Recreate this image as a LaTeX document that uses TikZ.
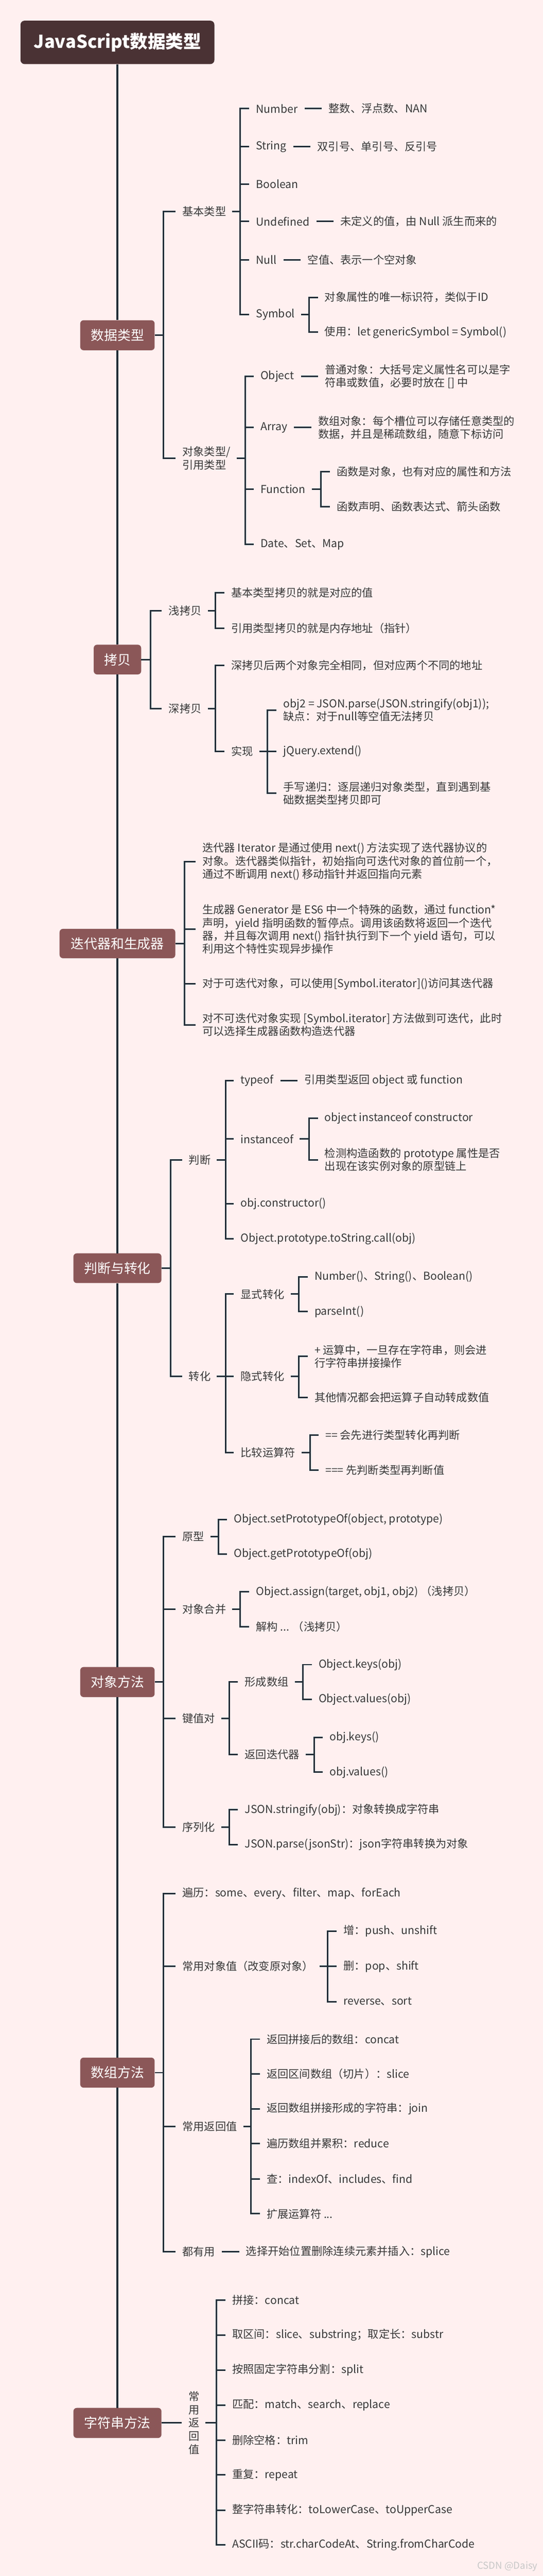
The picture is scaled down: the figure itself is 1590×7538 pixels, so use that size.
\documentclass[tikz,border=0pt]{standalone}
\usepackage{fontspec}
\setmainfont{Noto Sans CJK SC}
\usepackage{tikz}
\usetikzlibrary{positioning}

\definecolor{bgpink}{RGB}{255,240,240}
\definecolor{rootc}{RGB}{74,50,52}
\definecolor{boxc}{RGB}{139,87,88}
\definecolor{linec}{RGB}{35,48,58}
\definecolor{txtc}{RGB}{55,55,55}

\begin{document}
\begin{tikzpicture}[x=1pt, y=-1pt,
		topic/.style={fill=boxc, text=white, rounded corners=10pt, inner sep=0pt, minimum height=88pt, font=\fontsize{39}{45}\selectfont},
		item/.style={anchor=west, inner sep=0pt, align=left, text=txtc, font=\fontsize{32}{38}\selectfont},
		limb/.style={draw=linec, line width=4.5pt},
		trunk/.style={draw=linec, line width=5.5pt},
		stem/.style={limb, shorten <=18pt},
		branch/.style={limb, shorten >=20pt},
		pair/.style={limb, shorten <=20pt, shorten >=20pt}
	]

		\useasboundingbox (0,0) rectangle (1590,7538);
		\fill[bgpink] (0,0) rectangle (1590,7538);

		\node[fill=rootc, text=white, rounded corners=12pt, minimum width=568pt, minimum height=127pt, font=\bfseries\fontsize{52}{58}\selectfont] (root) at (344,124) {JavaScript数据类型};

		\node[topic, minimum width=218pt] (types) at (344,981) {数据类型};
		\node[topic, minimum width=139pt, minimum height=87pt] (copy) at (344,1930) {拷贝};
		\node[topic, minimum width=339pt, minimum height=86pt] (iter) at (344,2761) {迭代器和生成器};
		\node[topic, minimum width=258pt, minimum height=87pt] (check) at (344,3711) {判断与转化};
		\node[topic, minimum width=218pt] (objm) at (344,4922) {对象方法};
		\node[topic, minimum width=218pt] (arrm) at (344,6065) {数组方法};
		\node[topic, minimum width=258pt] (strm) at (344,7090) {字符串方法};

		\node[item] (basic) at (534,619) {基本类型};
		\node[item] (reftype) at (534,1341) {对象类型/\\引用类型};
		\node[item] (num) at (750,318) {Number};
		\node[item, right=90pt of num] (numd) {整数、浮点数、NAN};
		\node[item] (str) at (750,429) {String};
		\node[item, right=90pt of str] (strd) {双引号、单引号、反引号};
		\node[item] (bool) at (750,539) {Boolean};
		\node[item] (undef) at (750,648) {Undefined};
		\node[item, right=90pt of undef] (undefd) {未定义的值，由 Null 派生而来的};
		\node[item] (null) at (750,760) {Null};
		\node[item, right=90pt of null] (nulld) {空值、表示一个空对象};
		\node[item] (sym) at (750,921) {Symbol};
		\node[item] (sym1) at (951,870) {对象属性的唯一标识符，类似于ID};
		\node[item] (sym2) at (951,972) {使用：let genericSymbol = Symbol()};
		\node[item] (obj) at (763,1102) {Object};
		\node[item, right=90pt of obj] (objd) {普通对象：大括号定义属性名可以是字\\符串或数值，必要时放在 [] 中};
		\node[item] (arr) at (763,1251) {Array};
		\node[item, right=90pt of arr] (arrd) {数组对象：每个槽位可以存储任意类型的\\数据，并且是稀疏数组，随意下标访问};
		\node[item] (func) at (763,1431) {Function};
		\node[item] (func1) at (986,1380) {函数是对象，也有对应的属性和方法};
		\node[item] (func2) at (986,1482) {函数声明、函数表达式、箭头函数};
		\node[item] (misc) at (763,1593) {Date、Set、Map};

		\node[item] (shallow) at (494,1787) {浅拷贝};
		\node[item] (shallow1) at (677,1735) {基本类型拷贝的就是对应的值};
		\node[item] (shallow2) at (677,1838) {引用类型拷贝的就是内存地址（指针）};
		\node[item] (deep) at (494,2074) {深拷贝};
		\node[item] (deep1) at (677,1947) {深拷贝后两个对象完全相同，但对应两个不同的地址};
		\node[item] (impl) at (677,2199) {实现};
		\node[item] (impl1) at (830,2078) {obj2 = JSON.parse(JSON.stringify(obj1));\\缺点：对于null等空值无法拷贝};
		\node[item] (impl2) at (830,2199) {jQuery.extend()};
		\node[item] (impl3) at (830,2321) {手写递归：逐层递归对象类型，直到遇到基\\础数据类型拷贝即可};

		\node[item] (iter1) at (593,2521) {迭代器 Iterator 是通过使用 next() 方法实现了迭代器协议的\\对象。迭代器类似指针，初始指向可迭代对象的首位前一个，\\通过不断调用 next() 移动指针并返回指向元素};
		\node[item] (iter2) at (593,2719) {生成器 Generator 是 ES6 中一个特殊的函数，通过 function*\\声明，yield 指明函数的暂停点。调用该函数将返回一个迭代\\器，并且每次调用 next() 指针执行到下一个 yield 语句，可以\\利用这个特性实现异步操作};
		\node[item] (iter3) at (593,2879) {对于可迭代对象，可以使用[Symbol.iterator]()访问其迭代器};
		\node[item] (iter4) at (593,2999) {对不可迭代对象实现 [Symbol.iterator] 方法做到可迭代，此时\\可以选择生成器函数构造迭代器};

		\node[item] (judge) at (553,3394) {判断};
		\node[item] (conv) at (553,4028) {转化};
		\node[item] (typeof) at (705,3162) {typeof};
		\node[item, right=90pt of typeof] (typeofd) {引用类型返回 object 或 function};
		\node[item] (inst) at (705,3333) {instanceof};
		\node[item] (inst1) at (951,3272) {object instanceof constructor};
		\node[item] (inst2) at (951,3394) {检测构造函数的 prototype 属性是否\\出现在该实例对象的原型链上};
		\node[item] (ctor) at (705,3523) {obj.constructor()};
		\node[item] (tostr) at (705,3625) {Object.prototype.toString.call(obj)};
		\node[item] (expl) at (705,3787) {显式转化};
		\node[item] (expl1) at (921,3737) {Number()、String()、Boolean()};
		\node[item] (expl2) at (921,3838) {parseInt()};
		\node[item] (impc) at (705,4028) {隐式转化};
		\node[item] (impc1) at (921,3969) {+ 运算中，一旦存在字符串，则会进\\行字符串拼接操作};
		\node[item] (impc2) at (921,4089) {其他情况都会把运算子自动转成数值};
		\node[item] (cmp) at (705,4251) {比较运算符};
		\node[item] (cmp1) at (953,4199) {== 会先进行类型转化再判断};
		\node[item] (cmp2) at (953,4302) {=== 先判断类型再判断值};

		\node[item] (proto) at (534,4496) {原型};
		\node[item] (proto1) at (685,4446) {Object.setPrototypeOf(object, prototype)};
		\node[item] (proto2) at (685,4548) {Object.getPrototypeOf(obj)};
		\node[item] (merge) at (534,4709) {对象合并};
		\node[item] (merge1) at (750,4658) {Object.assign(target, obj1, obj2) （浅拷贝）};
		\node[item] (merge2) at (750,4760) {解构 ... （浅拷贝）};
		\node[item] (kv) at (534,5028) {键值对};
		\node[item] (kvarr) at (717,4921) {形成数组};
		\node[item] (kvarr1) at (933,4871) {Object.keys(obj)};
		\node[item] (kvarr2) at (933,4973) {Object.values(obj)};
		\node[item] (kvit) at (717,5134) {返回迭代器};
		\node[item] (kvit1) at (965,5084) {obj.keys()};
		\node[item] (kvit2) at (965,5186) {obj.values()};
		\node[item] (ser) at (534,5346) {序列化};
		\node[item] (ser1) at (717,5296) {JSON.stringify(obj)：对象转换成字符串};
		\node[item] (ser2) at (717,5398) {JSON.parse(jsonStr)：json字符串转换为对象};

		\node[item] (trav) at (534,5541) {遍历：some、every、filter、map、forEach};
		\node[item] (mut) at (534,5754) {常用对象值（改变原对象）};
		\node[item] (mut1) at (1006,5651) {增：push、unshift};
		\node[item] (mut2) at (1006,5754) {删：pop、shift};
		\node[item] (mut3) at (1006,5857) {reverse、sort};
		\node[item] (ret) at (534,6222) {常用返回值};
		\node[item] (ret1) at (781,5967) {返回拼接后的数组：concat};
		\node[item] (ret2) at (781,6069) {返回区间数组（切片）：slice};
		\node[item] (ret3) at (781,6171) {返回数组拼接形成的字符串：join};
		\node[item] (ret4) at (781,6273) {遍历数组并累积：reduce};
		\node[item] (ret5) at (781,6376) {查：indexOf、includes、find};
		\node[item] (ret6) at (781,6478) {扩展运算符 ...};
		\node[item] (both) at (534,6589) {都有用};
		\node[item, right=90pt of both] (bothd) {选择开始位置删除连续元素并插入：splice};

		\node[item, anchor=center, align=center, font=\fontsize{32}{39}\selectfont] (common) at (568,7090) {常\\用\\返\\回\\值};
		\node[item] (s1) at (680,6731) {拼接：concat};
		\node[item] (s2) at (680,6833) {取区间：slice、substring；取定长：substr};
		\node[item] (s3) at (680,6935) {按照固定字符串分割：split};
		\node[item] (s4) at (680,7038) {匹配：match、search、replace};
		\node[item] (s5) at (680,7140) {删除空格：trim};
		\node[item] (s6) at (680,7242) {重复：repeat};
		\node[item] (s7) at (680,7345) {整字符串转化：toLowerCase、toUpperCase};
		\node[item] (s8) at (680,7447) {ASCII码：str.charCodeAt、String.fromCharCode};

		\node[anchor=west, inner sep=0pt, text=black!22, font=\fontsize{28}{34}\selectfont] (mark) at (1398,7510) {CSDN @Daisy};

		\coordinate (typesj) at (479,981);
		\coordinate (basicj) at (703,619);
		\coordinate (symj) at (905,921);
		\coordinate (reftypej) at (718,1341);
		\coordinate (funcj) at (940,1431);
		\coordinate (copyj) at (441,1930);
		\coordinate (shallowj) at (631,1787);
		\coordinate (deepj) at (631,2074);
		\coordinate (implj) at (783,2199);
		\coordinate (iterj) at (540,2761);
		\coordinate (checkj) at (500,3711);
		\coordinate (judgej) at (661,3394);
		\coordinate (instj) at (905,3333);
		\coordinate (convj) at (661,4028);
		\coordinate (explj) at (875,3787);
		\coordinate (impcj) at (875,4028);
		\coordinate (cmpj) at (908,4251);
		\coordinate (objmj) at (479,4922);
		\coordinate (protoj) at (640,4496);
		\coordinate (mergej) at (703,4709);
		\coordinate (kvj) at (672,5028);
		\coordinate (kvarrj) at (887,4921);
		\coordinate (kvitj) at (920,5134);
		\coordinate (serj) at (672,5346);
		\coordinate (arrmj) at (479,6065);
		\coordinate (mutj) at (960,5754);
		\coordinate (retj) at (735,6222);
		\coordinate (commonj) at (634,7090);

		\draw[trunk] (root.south) -- (types.north);
		\draw[trunk] (types.south) -- (copy.north);
		\draw[trunk] (copy.south) -- (iter.north);
		\draw[trunk] (iter.south) -- (check.north);
		\draw[trunk] (check.south) -- (objm.north);
		\draw[trunk] (objm.south) -- (arrm.north);
		\draw[trunk] (arrm.south) -- (strm.north);

		\draw[limb] (types) -- (typesj);
		\draw[branch] (typesj) |- (basic);
		\draw[branch] (typesj) |- (reftype);
		\draw[stem] (basic) -- (basicj);
		\draw[branch] (basicj) |- (num);
		\draw[branch] (basicj) |- (str);
		\draw[branch] (basicj) |- (bool);
		\draw[branch] (basicj) |- (undef);
		\draw[branch] (basicj) |- (null);
		\draw[branch] (basicj) |- (sym);
		\draw[pair] (num) -- (numd);
		\draw[pair] (str) -- (strd);
		\draw[pair] (undef) -- (undefd);
		\draw[pair] (null) -- (nulld);
		\draw[stem] (sym) -- (symj);
		\draw[branch] (symj) |- (sym1);
		\draw[branch] (symj) |- (sym2);
		\draw[stem] (reftype) -- (reftypej);
		\draw[branch] (reftypej) |- (obj);
		\draw[branch] (reftypej) |- (arr);
		\draw[branch] (reftypej) |- (func);
		\draw[branch] (reftypej) |- (misc);
		\draw[pair] (obj) -- (objd);
		\draw[pair] (arr) -- (arrd);
		\draw[stem] (func) -- (funcj);
		\draw[branch] (funcj) |- (func1);
		\draw[branch] (funcj) |- (func2);

		\draw[limb] (copy) -- (copyj);
		\draw[branch] (copyj) |- (shallow);
		\draw[branch] (copyj) |- (deep);
		\draw[stem] (shallow) -- (shallowj);
		\draw[branch] (shallowj) |- (shallow1);
		\draw[branch] (shallowj) |- (shallow2);
		\draw[stem] (deep) -- (deepj);
		\draw[branch] (deepj) |- (deep1);
		\draw[branch] (deepj) |- (impl);
		\draw[stem] (impl) -- (implj);
		\draw[branch] (implj) |- (impl1);
		\draw[branch] (implj) |- (impl2);
		\draw[branch] (implj) |- (impl3);

		\draw[limb] (iter) -- (iterj);
		\draw[branch] (iterj) |- (iter1);
		\draw[branch] (iterj) |- (iter2);
		\draw[branch] (iterj) |- (iter3);
		\draw[branch] (iterj) |- (iter4);

		\draw[limb] (check) -- (checkj);
		\draw[branch] (checkj) |- (judge);
		\draw[branch] (checkj) |- (conv);
		\draw[stem] (judge) -- (judgej);
		\draw[branch] (judgej) |- (typeof);
		\draw[branch] (judgej) |- (inst);
		\draw[branch] (judgej) |- (ctor);
		\draw[branch] (judgej) |- (tostr);
		\draw[pair] (typeof) -- (typeofd);
		\draw[stem] (inst) -- (instj);
		\draw[branch] (instj) |- (inst1);
		\draw[branch] (instj) |- (inst2);
		\draw[stem] (conv) -- (convj);
		\draw[branch] (convj) |- (expl);
		\draw[branch] (convj) |- (impc);
		\draw[branch] (convj) |- (cmp);
		\draw[stem] (expl) -- (explj);
		\draw[branch] (explj) |- (expl1);
		\draw[branch] (explj) |- (expl2);
		\draw[stem] (impc) -- (impcj);
		\draw[branch] (impcj) |- (impc1);
		\draw[branch] (impcj) |- (impc2);
		\draw[stem] (cmp) -- (cmpj);
		\draw[branch] (cmpj) |- (cmp1);
		\draw[branch] (cmpj) |- (cmp2);

		\draw[limb] (objm) -- (objmj);
		\draw[branch] (objmj) |- (proto);
		\draw[branch] (objmj) |- (merge);
		\draw[branch] (objmj) |- (kv);
		\draw[branch] (objmj) |- (ser);
		\draw[stem] (proto) -- (protoj);
		\draw[branch] (protoj) |- (proto1);
		\draw[branch] (protoj) |- (proto2);
		\draw[stem] (merge) -- (mergej);
		\draw[branch] (mergej) |- (merge1);
		\draw[branch] (mergej) |- (merge2);
		\draw[stem] (kv) -- (kvj);
		\draw[branch] (kvj) |- (kvarr);
		\draw[branch] (kvj) |- (kvit);
		\draw[stem] (kvarr) -- (kvarrj);
		\draw[branch] (kvarrj) |- (kvarr1);
		\draw[branch] (kvarrj) |- (kvarr2);
		\draw[stem] (kvit) -- (kvitj);
		\draw[branch] (kvitj) |- (kvit1);
		\draw[branch] (kvitj) |- (kvit2);
		\draw[stem] (ser) -- (serj);
		\draw[branch] (serj) |- (ser1);
		\draw[branch] (serj) |- (ser2);

		\draw[limb] (arrm) -- (arrmj);
		\draw[branch] (arrmj) |- (trav);
		\draw[branch] (arrmj) |- (mut);
		\draw[branch] (arrmj) |- (ret);
		\draw[branch] (arrmj) |- (both);
		\draw[stem] (mut) -- (mutj);
		\draw[branch] (mutj) |- (mut1);
		\draw[branch] (mutj) |- (mut2);
		\draw[branch] (mutj) |- (mut3);
		\draw[stem] (ret) -- (retj);
		\draw[branch] (retj) |- (ret1);
		\draw[branch] (retj) |- (ret2);
		\draw[branch] (retj) |- (ret3);
		\draw[branch] (retj) |- (ret4);
		\draw[branch] (retj) |- (ret5);
		\draw[branch] (retj) |- (ret6);
		\draw[pair] (both) -- (bothd);

		\draw[branch] (strm) -- (common);
		\draw[stem] (common) -- (commonj);
		\draw[branch] (commonj) |- (s1);
		\draw[branch] (commonj) |- (s2);
		\draw[branch] (commonj) |- (s3);
		\draw[branch] (commonj) |- (s4);
		\draw[branch] (commonj) |- (s5);
		\draw[branch] (commonj) |- (s6);
		\draw[branch] (commonj) |- (s7);
		\draw[branch] (commonj) |- (s8);
	\end{tikzpicture}
\end{document}
